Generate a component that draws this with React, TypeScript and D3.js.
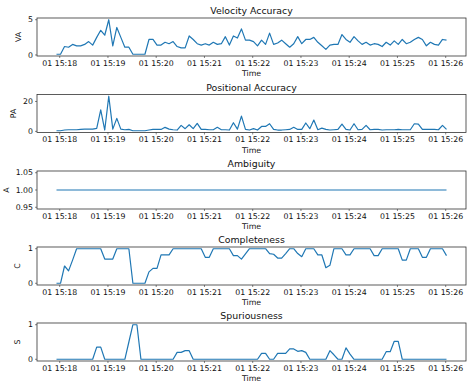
import React, { useRef, useEffect } from "react";
import * as d3 from "d3";

// samples every 5 s starting 15:17:56
const startTime = Date.UTC(2024, 0, 1, 15, 17, 56);
const stepSeconds = 5;

const velocity = [
  0.1, 0.1, 1.2, 1.1, 1.5, 1.3, 1.3, 1.5, 1.9, 1.4, 2.5, 3.5, 2.8, 5.0, 1.3, 3.9, 2.5, 1.1, 1.1, 0.1,
  0.1, 0.1, 0.1, 2.2, 2.2, 1.4, 1.4, 1.8, 1.6, 1.9, 1.2, 1.0, 1.0, 2.7, 2.2, 1.6, 1.4, 1.6, 1.4, 1.8,
  1.5, 1.6, 2.6, 1.4, 2.7, 2.4, 3.7, 2.1, 2.1, 1.9, 1.3, 2.1, 1.5, 3.1, 1.5, 1.7, 2.1, 1.6, 1.1, 1.6,
  2.6, 1.6, 2.2, 2.2, 2.5, 1.8, 1.3, 0.8, 1.4, 1.5, 1.5, 2.9, 2.2, 1.8, 2.6, 2.0, 1.5, 1.8, 1.4, 1.6,
  1.5, 1.2, 1.8, 1.4, 2.0, 1.5, 2.2, 1.6, 1.8, 2.2, 2.5, 2.2, 1.3, 1.8, 1.5, 1.4, 2.2, 2.1,
];

const positional = [
  0.4, 0.4, 0.9, 1.1, 1.1, 1.1, 1.3, 1.5, 1.5, 1.5, 2.0, 14.4, 0.9, 23.5, 1.5, 8.7, 1.5, 1.1, 1.3, 0.4,
  0.4, 0.4, 0.4, 0.9, 1.3, 1.3, 1.3, 2.7, 1.5, 1.1, 0.9, 4.0, 1.8, 4.4, 1.8, 5.3, 1.3, 1.3, 1.1, 1.1,
  2.7, 1.1, 1.1, 0.9, 5.8, 1.5, 10.2, 1.3, 0.9, 1.8, 0.9, 3.3, 3.3, 5.1, 1.3, 0.9, 0.9, 1.1, 1.3, 2.7,
  1.3, 1.3, 5.6, 1.8, 7.6, 1.1, 2.2, 1.3, 0.9, 1.1, 1.3, 4.9, 1.3, 0.9, 5.1, 1.1, 1.3, 4.0, 1.1, 1.3,
  1.3, 0.9, 1.1, 1.1, 1.1, 1.3, 1.1, 1.1, 1.1, 5.1, 4.9, 1.3, 1.3, 1.3, 1.3, 1.1, 4.0, 1.3,
];

const ambiguity = [
  1, 1, 1, 1, 1, 1, 1, 1, 1, 1, 1, 1, 1, 1, 1, 1, 1, 1, 1, 1,
  1, 1, 1, 1, 1, 1, 1, 1, 1, 1, 1, 1, 1, 1, 1, 1, 1, 1, 1, 1,
  1, 1, 1, 1, 1, 1, 1, 1, 1, 1, 1, 1, 1, 1, 1, 1, 1, 1, 1, 1,
  1, 1, 1, 1, 1, 1, 1, 1, 1, 1, 1, 1, 1, 1, 1, 1, 1, 1, 1, 1,
  1, 1, 1, 1, 1, 1, 1, 1, 1, 1, 1, 1, 1, 1, 1, 1, 1, 1,
];

const completeness = [
  0, 0, 0.5, 0.36, 0.67, 1, 1, 1, 1, 1, 1, 1, 0.7, 0.7, 0.7, 1, 1, 1, 1, 0,
  0, 0, 0, 0.33, 0.43, 0.43, 0.82, 0.82, 0.82, 1, 1, 1, 1, 1, 1, 1, 1, 0.75, 0.75, 1,
  1, 1, 1, 1, 0.8, 0.8, 0.7, 0.85, 1, 1, 1, 1, 1, 0.86, 0.84, 0.73, 0.73, 0.86, 1, 1,
  0.86, 0.77, 1, 1, 1, 0.82, 0.82, 0.45, 0.52, 1, 1, 1, 0.82, 0.82, 1, 1, 1, 1, 1, 0.8,
  0.8, 1, 1, 1, 1, 1, 0.67, 0.67, 1, 1, 1, 0.75, 0.75, 1, 1, 1, 1, 0.8,
];

const spuriousness = [
  0, 0, 0, 0, 0, 0, 0, 0, 0, 0, 0.35, 0.35, 0, 0, 0, 0, 0, 0, 0.5, 1,
  1, 0, 0, 0, 0, 0, 0, 0, 0, 0, 0.2, 0.2, 0.25, 0.25, 0, 0, 0, 0, 0, 0,
  0, 0, 0, 0, 0, 0, 0, 0, 0, 0, 0, 0.17, 0.17, 0, 0, 0.17, 0.17, 0.17, 0.3, 0.3,
  0.23, 0.25, 0.2, 0, 0, 0, 0, 0, 0.25, 0.13, 0, 0, 0.33, 0.15, 0, 0, 0, 0, 0, 0,
  0, 0, 0.22, 0.22, 0.52, 0.52, 0, 0, 0, 0, 0, 0, 0, 0, 0, 0, 0, 0,
];

const titles = ["Velocity Accuracy", "Positional Accuracy", "Ambiguity", "Completeness", "Spuriousness"];
const yLabels = ["VA", "PA", "A", "C", "S"];
const yTicks = [[0, 5], [0, 20], [0.95, 1.0, 1.05], [0, 1], [0, 1]];
const xLabel = "Time";

export default function App() {
  const svgRef = useRef<SVGSVGElement>(null);

  useEffect(() => {
    const width = 474;
    const height = 388;
    const left = 37;
    const right = 466;
    const panelH = 38;
    const tops = [18, 94.5, 171, 247, 323];
    const ylabelX = [20.5, 16, 9, 20, 20];
    const font = "DejaVu Sans, sans-serif";

    const svg = d3.select(svgRef.current);
    svg.selectAll("*").remove();
    svg.attr("width", width).attr("height", height);
    svg.append("rect").attr("width", width).attr("height", height).attr("fill", "#fff");

    const series = [velocity, positional, ambiguity, completeness, spuriousness];
    const times = velocity.map((_, i) => new Date(startTime + i * stepSeconds * 1000));

    // matplotlib-like 5% margins
    const t0 = +times[0];
    const t1 = +times[times.length - 1];
    const tpad = (t1 - t0) * 0.05;
    const x = d3.scaleUtc().domain([new Date(t0 - tpad), new Date(t1 + tpad)]).range([left, right]);
    const xTickVals = x.ticks(d3.utcMinute.every(1)!);
    const fmt = d3.utcFormat("%d %H:%M");

    series.forEach((data, k) => {
      const top = tops[k];
      const bottom = top + panelH;
      let lo = d3.min(data)!;
      let hi = d3.max(data)!;
      if (lo === hi) {
        lo = lo - 0.05 * Math.abs(lo);
        hi = hi + 0.05 * Math.abs(hi);
      }
      const pad = (hi - lo) * 0.05;
      const y = d3.scaleLinear().domain([lo - pad, hi + pad]).range([bottom, top]);

      const g = svg.append("g");

      const line = d3
        .line<number>()
        .x((_, i) => x(times[i]))
        .y((d) => y(d));

      g.append("path")
        .datum(data)
        .attr("d", line)
        .attr("fill", "none")
        .attr("stroke", "#1f77b4")
        .attr("stroke-width", 1.2)
        .attr("stroke-linejoin", "round");

      // frame
      g.append("rect")
        .attr("x", left)
        .attr("y", top)
        .attr("width", right - left)
        .attr("height", panelH)
        .attr("fill", "none")
        .attr("stroke", "#333")
        .attr("stroke-width", 0.8);

      // x ticks
      xTickVals.forEach((t) => {
        const xp = x(t);
        g.append("line")
          .attr("x1", xp).attr("x2", xp)
          .attr("y1", bottom).attr("y2", bottom + 2)
          .attr("stroke", "#333").attr("stroke-width", 0.6);
        g.append("text")
          .attr("x", xp)
          .attr("y", bottom + 9.5)
          .attr("text-anchor", "middle")
          .style("font-family", font)
          .style("font-size", "7.8px")
          .attr("fill", "#111")
          .text(fmt(t));
      });

      // y ticks
      yTicks[k].forEach((v) => {
        const yp = y(v);
        g.append("line")
          .attr("x1", left - 2).attr("x2", left)
          .attr("y1", yp).attr("y2", yp)
          .attr("stroke", "#333").attr("stroke-width", 0.6);
        g.append("text")
          .attr("x", left - 4)
          .attr("y", yp)
          .attr("dy", "0.35em")
          .attr("text-anchor", "end")
          .style("font-family", font)
          .style("font-size", "7.8px")
          .attr("fill", "#111")
          .text(k === 2 ? d3.format(".2f")(v) : String(v));
      });

      g.append("text")
        .attr("transform", `translate(${ylabelX[k]},${(top + bottom) / 2}) rotate(-90)`)
        .attr("text-anchor", "middle")
        .style("font-family", font)
        .style("font-size", "7.8px")
        .attr("fill", "#111")
        .text(yLabels[k]);

      g.append("text")
        .attr("x", (left + right) / 2)
        .attr("y", bottom + 20)
        .attr("text-anchor", "middle")
        .style("font-family", font)
        .style("font-size", "7.8px")
        .attr("fill", "#111")
        .text(xLabel);

      g.append("text")
        .attr("x", (left + right) / 2)
        .attr("y", top - 4)
        .attr("text-anchor", "middle")
        .style("font-family", font)
        .style("font-size", "9.4px")
        .attr("fill", "#111")
        .text(titles[k]);
    });
  }, []);

  return <svg ref={svgRef} style={{ position: "absolute", left: 0, top: 0 }}></svg>;
}
